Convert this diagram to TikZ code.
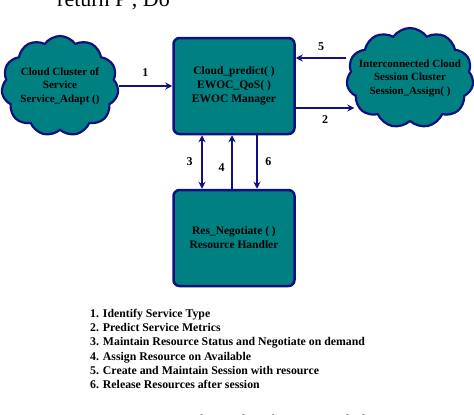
\documentclass[tikz,border=0pt]{standalone}
\usepackage{fontspec}
\setmainfont{Liberation Serif}
\usetikzlibrary{arrows.meta, positioning, shapes.symbols, calc}
\definecolor{ewocteal}{RGB}{0,128,128}
\definecolor{ewocnavy}{RGB}{16,16,128}
\tikzset{
  cloudnode/.style={cloud, cloud puffs=11, cloud puff arc=110, draw=ewocnavy, line width=2.2pt,
                    fill=ewocteal, inner sep=0pt},
  cloudtext/.style={align=center, font=\fontsize{11}{13.5}\selectfont\bfseries, text=black, inner sep=0pt},
  module/.style={draw=ewocnavy, line width=2.5pt, fill=ewocteal, rounded corners=6pt,
                 align=center, font=\fontsize{11.5}{14}\selectfont\bfseries, text=black,
                 minimum width=121pt, minimum height=96pt},
  flow/.style={-{Stealth[length=7pt,width=7pt]}, line width=2.1pt, draw=ewocnavy},
  step label/.style={font=\fontsize{12}{13}\selectfont\bfseries},
}
\begin{document}
\begin{tikzpicture}[x=1pt, y=-1pt]
\clip (0,0) rectangle (474,415);
% cropped text at the edges
\node[anchor=base east, font=\fontsize{22}{24}\selectfont, inner sep=0pt] (rettext) at (170,6) {return P$'$, Do};
% modules
\node[module] (mgr) at (234,86) {Cloud\_predict( )\\EWOC\_QoS( )\\EWOC Manager};
\node[module] (res) at (234,238) {Res\_Negotiate ( )\\Resource Handler};
\node[cloudnode, minimum width=117pt, minimum height=100pt] (svc) at (60,86) {};
\node[cloudtext] (svctext) at (svc) {Cloud Cluster of\\Service\\Service\_Adapt ()};
\node[cloudnode, minimum width=127pt, minimum height=100pt] (sess) at (410,78) {};
\node[cloudtext] (sesstext) at (sess) {Interconnected Cloud\\Session Cluster\\Session\_Assign( )};
% flows
\draw[flow] (svc.east |- mgr.west) -- (mgr.west) node[step label, midway, above=5pt] {1};
\draw[flow] ([yshift=28pt]mgr.east -| sess.west) -- ([yshift=28pt]mgr.east) node[step label, midway, above=3pt] {5};
\draw[flow] ([yshift=-22pt]mgr.east) -- ([yshift=-22pt,xshift=8pt]mgr.east -| sess.west) node[step label, midway, below=3pt] {2};
\draw[flow, {Stealth[length=7pt,width=7pt]}-{Stealth[length=7pt,width=7pt]}] ([xshift=-32pt]mgr.south) -- ([xshift=-32pt]res.north) node[step label, midway, left=5pt] {3};
\draw[flow] ([xshift=-2pt]res.north) -- ([xshift=-2pt]mgr.south) node[step label, pos=0.4, left=3pt] {4};
\draw[flow] ([xshift=23pt]mgr.south) -- ([xshift=23pt]res.north) node[step label, midway, right=4pt] {6};
% legend
\node[anchor=north west, align=left, font=\fontsize{11.8}{14.2}\selectfont\bfseries, inner sep=0pt] (legend) at (90,309) {%
1. Identify Service Type\\
2. Predict Service Metrics\\
3. Maintain Resource Status and Negotiate on demand\\
4. Assign Resource on Available\\
5. Create and Maintain Session with resource\\
6. Release Resources after session};
\node[anchor=base west, font=\fontsize{15}{17}\selectfont, inner sep=0pt] (caption) at (52,425) {Fig. 1 EWOC Functionality and Architecture and Flow};
\end{tikzpicture}
\end{document}
